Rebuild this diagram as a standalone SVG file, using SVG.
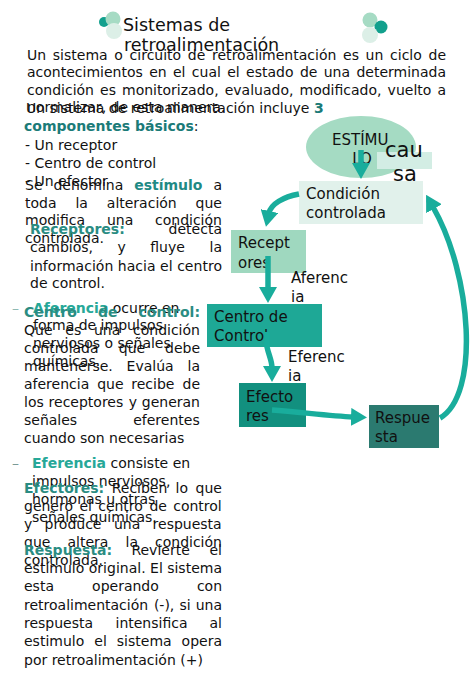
<svg xmlns="http://www.w3.org/2000/svg" width="474" height="684" viewBox="0 0 474 684">
<defs>
<style>
text{font-family:"DejaVu Sans","Liberation Sans",sans-serif;fill:#111}
.b{font-size:14px}
.n{font-size:15px}
.t{font-size:17.5px}
.k{font-weight:bold;fill:#1b7b78}
.k2{font-weight:bold;fill:#2a8c82}
.k3{font-weight:bold;fill:#26a898}
.d{fill:#8fb9b3}
.ar{fill:none;stroke:#19ad9c;stroke-width:5.5;marker-end:url(#ah)}
</style>
<marker id="ah" viewBox="0 0 16 18" markerWidth="16" markerHeight="18" refX="2" refY="9" orient="auto" markerUnits="userSpaceOnUse">
<path d="M0,0 L16,9 L0,18 z" fill="#19ad9c"/>
</marker>
</defs>
<rect width="474" height="684" fill="#fff"/>

<g id="deco-left">
<circle cx="104" cy="22" r="5" fill="#12a08d"/>
<circle cx="113" cy="19" r="7.5" fill="#a6dbc4"/>
<circle cx="114" cy="31" r="8" fill="#dcefe7"/>
</g>
<g id="deco-right">
<circle cx="370" cy="20" r="7.5" fill="#a6dbc4"/>
<circle cx="381" cy="27" r="6.5" fill="#12a08d"/>
<circle cx="370" cy="35" r="8" fill="#dcefe7"/>
</g>

<g id="title">
<text class="t" x="123" y="31">Sistemas de</text>
<text class="t" x="124" y="51">retroalimentación</text>
</g>

<g id="intro">
<text class="b" x="27" y="59.5" textLength="419" word-spacing="2.2">Un sistema o circuito de retroalimentación es un ciclo de</text>
<text class="b" x="27" y="77" textLength="419" word-spacing="1.9">acontecimientos en el cual el estado de una determinada</text>
<text class="b" x="27" y="94.5" textLength="419" word-spacing="1.6">condición es monitorizado, evaluado, modificado, vuelto a</text>
<text class="b" x="27" y="112">normalizar, de esta manera.</text>
</g>

<g id="componentes">
<text class="b" x="26" y="112.5">Un sistema de retroalimentación incluye <tspan class="k">3</tspan></text>
<text class="b" x="24" y="131"><tspan class="k">componentes básicos</tspan>:</text>
<text class="b" x="25" y="149.5">- Un receptor</text>
<text class="b" x="25" y="167.5">- Centro de control</text>
<text class="b" x="25" y="185.5">- Un efector</text>
</g>

<g id="estimulo-text">
<text class="b" y="189.5"><tspan x="25">Se</tspan><tspan x="53.4">denomina</tspan><tspan x="134.2" class="k" style="fill:#1f8a85">estímulo</tspan><tspan x="213.4">a</tspan></text>
<text class="b" y="207.5"><tspan x="25">toda</tspan><tspan x="75.4">la</tspan><tspan x="106.8">alteración</tspan><tspan x="195.6">que</tspan></text>
<text class="b" y="225"><tspan x="25">modifica</tspan><tspan x="106.9">una</tspan><tspan x="155">condición</tspan></text>
<text class="b" x="25" y="243">controlada.</text>
</g>

<g id="receptores-text">
<text class="b" y="234"><tspan x="30" class="k2">Receptores:</tspan><tspan x="168.6">detecta</tspan></text>
<text class="b" y="252"><tspan x="30">cambios,</tspan><tspan x="117.5">y</tspan><tspan x="150.3">fluye</tspan><tspan x="209.5">la</tspan></text>
<text class="b" x="30" y="270.5" textLength="192">información hacia el centro</text>
<text class="b" x="30" y="288">de control.</text>
</g>

<g id="aferencia-text">
<text class="b d" x="12" y="312.5">–</text>
<text class="b" x="33" y="312.5"><tspan class="k3">Aferencia</tspan> ocurre en</text>
<text class="b" x="33" y="330">forma de impulsos</text>
<text class="b" x="33" y="348">nerviosos o señales</text>
<text class="b" x="33" y="366">químicas.</text>
</g>

<g id="centro-text">
<text class="b k2" y="316.5"><tspan x="24">Centro</tspan><tspan x="98">de</tspan><tspan x="138.5">control:</tspan></text>
<text class="b" y="334.5"><tspan x="24">Que</tspan><tspan x="65.3">es</tspan><tspan x="94">una</tspan><tspan x="133">condición</tspan></text>
<text class="b" y="352.5"><tspan x="24">controlada</tspan><tspan x="118.8">que</tspan><tspan x="165">debe</tspan></text>
<text class="b" y="371"><tspan x="24">mantenerse.</tspan><tspan x="126.6">Evalúa</tspan><tspan x="187.5">la</tspan></text>
<text class="b" y="389"><tspan x="24">aferencia</tspan><tspan x="97.2">que</tspan><tspan x="131.3">recibe</tspan><tspan x="182.5">de</tspan></text>
<text class="b" y="407"><tspan x="24">los</tspan><tspan x="48.6">receptores</tspan><tspan x="128.7">y</tspan><tspan x="141.8">generan</tspan></text>
<text class="b" y="425"><tspan x="24">señales</tspan><tspan x="133.2">eferentes</tspan></text>
<text class="b" x="24" y="443">cuando son necesarias</text>
</g>

<g id="eferencia-text">
<text class="b d" x="12" y="467.5" style="fill:#7a9a96">–</text>
<text class="b" x="32" y="467.5"><tspan class="k3">Eferencia</tspan> consiste en</text>
<text class="b" x="32" y="485.5">impulsos nerviosos,</text>
<text class="b" x="32" y="503.5">hormonas u otras</text>
<text class="b" x="32" y="521.5">señales químicas.</text>
</g>

<g id="efectores-text">
<text class="b" y="492.5"><tspan x="24" class="k2">Efectores:</tspan><tspan x="111.7">Reciben</tspan><tspan x="175.6">lo</tspan><tspan x="195.6">que</tspan></text>
<text class="b" y="511"><tspan x="24">generó</tspan><tspan x="79.5">el</tspan><tspan x="98.2">centro</tspan><tspan x="149.4">de</tspan><tspan x="173.2">control</tspan></text>
<text class="b" y="529"><tspan x="24">y</tspan><tspan x="44.5">produce</tspan><tspan x="114">una</tspan><tspan x="152.6">respuesta</tspan></text>
<text class="b" y="547"><tspan x="24">que</tspan><tspan x="67.5">altera</tspan><tspan x="125.5">la</tspan><tspan x="155">condición</tspan></text>
<text class="b" x="24" y="565">controlada.</text>
</g>

<g id="respuesta-text">
<text class="b" y="554.5"><tspan x="24" class="k2">Respuesta:</tspan><tspan x="131.4">Revierte</tspan><tspan x="209.5">el</tspan></text>
<text class="b" y="572.5"><tspan x="24">estímulo</tspan><tspan x="88.8">original.</tspan><tspan x="150.1">El</tspan><tspan x="167.2">sistema</tspan></text>
<text class="b" y="591"><tspan x="24">esta</tspan><tspan x="92.1">operando</tspan><tspan x="196.9">con</tspan></text>
<text class="b" y="609.5"><tspan x="24">retroalimentación</tspan><tspan x="153.9">(-),</tspan><tspan x="179.4">si</tspan><tspan x="195.7">una</tspan></text>
<text class="b" y="627.5"><tspan x="24">respuesta</tspan><tspan x="115.5">intensifica</tspan><tspan x="209.5">al</tspan></text>
<text class="b" y="646"><tspan x="24">estimulo</tspan><tspan x="94.3">el</tspan><tspan x="116.8">sistema</tspan><tspan x="181.6">opera</tspan></text>
<text class="b" x="24" y="664.5">por retroalimentación (+)</text>
</g>

<g id="estimulo">
<ellipse cx="361" cy="147" rx="55" ry="31" fill="#a5dbc3"/>
<text class="n" x="332" y="144.5">ESTÍMU</text>
<text class="n" x="362" y="163.5" text-anchor="middle">LO</text>
</g>
<g id="causa">
<rect x="377" y="152" width="55" height="17" fill="#d3ede4"/>
<text x="385" y="157" style="font-size:21px">cau</text>
<text x="393" y="181" style="font-size:21px">sa</text>
</g>
<g id="condicion">
<rect x="299" y="181" width="124" height="43" fill="#e1f1eb"/>
<text class="n" x="306" y="199">Condición</text>
<text class="n" x="306" y="218">controlada</text>
</g>
<g id="receptores">
<rect x="231" y="230" width="75" height="43" fill="#9fd8bf"/>
<text class="n" x="238" y="248">Recept</text>
<text class="n" x="238" y="268">ores</text>
</g>
<g id="centro">
<rect x="207" y="304" width="115" height="43" fill="#1ea896"/>
<text class="n" x="214" y="322">Centro de</text>
<text class="n" x="214" y="341">Control</text>
</g>
<g id="efectores">
<rect x="239" y="383" width="67" height="44" fill="#12907f"/>
<text class="n" x="246" y="402">Efecto</text>
<text class="n" x="246" y="421">res</text>
</g>
<g id="respuesta">
<rect x="369" y="405" width="70" height="43" fill="#2b7a70"/>
<text class="n" x="375" y="423">Respue</text>
<text class="n" x="375" y="442">sta</text>
</g>

<g id="connectors">
<path class="ar" d="M361,150 L361,165"/>
<path class="ar" d="M299,194 C283,197 271,204 269,213"/>
<path class="ar" d="M268,256 L268,289"/>
<path class="ar" d="M267,332 L267,347 C269,356 272,361 272,368"/>
<path class="ar" d="M272,410 C300,412 330,416 353,417"/>
<path class="ar" d="M440,418 C480,395 472,275 433,207"/>
<text class="n" x="291" y="283">Aferenc</text>
<text class="n" x="291" y="302">ia</text>
<text class="n" x="288" y="362">Eferenc</text>
<text class="n" x="288" y="381">ia</text>
</g>
</svg>
